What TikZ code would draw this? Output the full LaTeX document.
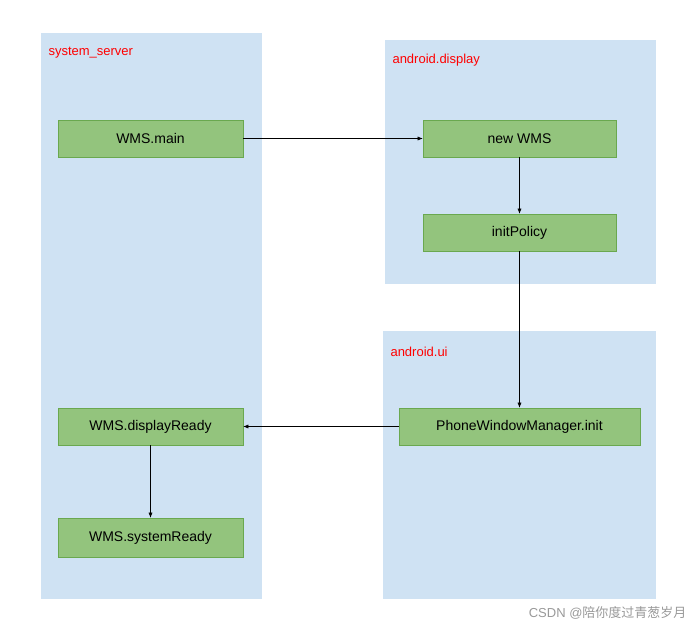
\documentclass[tikz,border=0pt]{standalone}
\usepackage{fontspec}
\setmainfont{Liberation Sans}
\newfontfamily\cjk{Noto Sans CJK SC}
\usetikzlibrary{arrows.meta}
\definecolor{panel}{HTML}{CFE2F3}
\definecolor{boxg}{HTML}{93C47D}
\definecolor{boxd}{HTML}{6AA84F}
\begin{document}
\begin{tikzpicture}[x=1pt,y=-1pt,
  panel/.style={fill=panel,draw=none},
  box/.style={fill=boxg,draw=boxd,line width=0.6pt,font=\fontsize{14}{16}\selectfont},
  lbl/.style={text=red,anchor=west,font=\fontsize{13}{15}\selectfont},
  arr/.style={-{Latex[length=5pt,width=4pt]},line width=0.5pt}]
\useasboundingbox (0,0) rectangle (699,633);
\fill[panel] (41,33) rectangle (262,599);
\fill[panel] (385,40) rectangle (656,284);
\fill[panel] (383,331) rectangle (656,599);
\node[lbl] (l1) at (45,53) {system\_server};
\node[lbl] (l2) at (389,60) {android.display};
\node[lbl] (l3) at (387,352) {android.ui};
\node[box,minimum width=185,minimum height=37] (main) at (150.5,138.5) {WMS.main};
\node[box,minimum width=193,minimum height=37] (nw) at (519.5,138.5) {new WMS};
\node[box,minimum width=193,minimum height=37] (ip) at (519.5,232.5) {initPolicy};
\node[box,minimum width=241,minimum height=37] (pwm) at (519.5,426.5) {PhoneWindowManager.init};
\node[box,minimum width=185,minimum height=37] (dr) at (150.5,426.5) {WMS.displayReady};
\node[box,minimum width=185,minimum height=39] (sr) at (150.5,537.5) {WMS.systemReady};
\draw[arr] (main) -- (nw);
\draw[arr] (nw) -- (ip);
\draw[arr] (ip) -- (pwm);
\draw[arr] (pwm) -- (dr);
\draw[arr] (dr) -- (sr);
\node[text=gray!80,anchor=east,font=\fontsize{13}{15}\selectfont] (wm) at (690,613) {CSDN @{\cjk 陪你度过青葱岁月}};
\end{tikzpicture}
\end{document}
